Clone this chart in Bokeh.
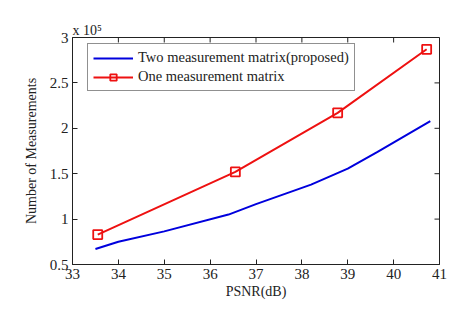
import math
from bokeh.plotting import figure
from bokeh.models import Legend, LegendItem, Range1d, FixedTicker
from bokeh.embed import file_html
from bokeh.resources import INLINE

# Data (Number of measurements in units of 1e5)
one_psnr = [33.55, 36.55, 38.78, 40.72]
one_meas = [0.83, 1.52, 2.17, 2.87]

two_psnr = [33.5, 34.0, 35.0, 36.4, 37.0, 38.2, 39.0, 39.65, 40.8]
two_meas = [0.67, 0.75, 0.865, 1.05, 1.165, 1.38, 1.555, 1.74, 2.08]

x_ticks = [33, 34, 35, 36, 37, 38, 39, 40, 41]
y_ticks = [0.5, 1, 1.5, 2, 2.5, 3]
x_min, x_max = 33, 41
y_min, y_max = 0.5, 3

FONT = "Liberation Serif"
TXT = "#222222"

p = figure(width=474, height=320, output_backend="svg", toolbar_location=None,
           x_range=Range1d(x_min, x_max), y_range=Range1d(y_min, y_max),
           min_border_left=72, min_border_right=35, min_border_top=37, min_border_bottom=56,
           title="x 10\u2075")
p.background_fill_color = "white"
p.border_fill_color = "white"
p.outline_line_color = "#222222"
p.outline_line_width = 1
p.xgrid.visible = False
p.ygrid.visible = False

p.title.text_font = FONT
p.title.text_font_size = "14px"
p.title.text_font_style = "normal"
p.title.text_color = TXT
p.title.align = "left"
p.title.offset = 0
p.title.standoff = 0

for ax in (p.xaxis[0], p.yaxis[0]):
    ax.major_tick_in = 5
    ax.major_tick_out = 0
    ax.minor_tick_in = 0
    ax.minor_tick_out = 0
    ax.axis_line_color = "#222222"
    ax.major_tick_line_color = "#222222"
    ax.major_label_text_font = FONT
    ax.major_label_text_font_size = "15px"
    ax.major_label_text_color = TXT
    ax.axis_label_text_font = FONT
    ax.axis_label_text_font_size = "14px"
    ax.axis_label_text_font_style = "normal"
    ax.axis_label_text_color = TXT

p.xaxis[0].ticker = FixedTicker(ticks=x_ticks)
p.yaxis[0].ticker = FixedTicker(ticks=y_ticks)
p.xaxis[0].axis_label = "PSNR(dB)"
p.yaxis[0].axis_label = "Number of Measurements"
p.xaxis[0].major_label_standoff = 4
p.yaxis[0].major_label_standoff = 4
p.xaxis[0].axis_label_standoff = 2
p.yaxis[0].axis_label_standoff = 8

# inward ticks on the top and right edges of the box
p.ray(x=x_ticks, y=[y_max] * len(x_ticks), length=5, length_units="screen",
      angle=-math.pi / 2, line_color="#222222", line_width=1)
p.ray(x=[x_max] * len(y_ticks), y=y_ticks, length=5, length_units="screen",
      angle=math.pi, line_color="#222222", line_width=1)

blue = p.line(two_psnr, two_meas, line_color="#0000dd", line_width=2)
red = p.line(one_psnr, one_meas, line_color="#ee1111", line_width=2)
red_sq = p.scatter(one_psnr, one_meas, marker="square", size=9, fill_color=None,
                   line_color="#ee1111", line_width=1.8)

legend = Legend(items=[
    LegendItem(label="Two measurement matrix(proposed)", renderers=[blue]),
    LegendItem(label="One measurement matrix", renderers=[red, red_sq]),
])
legend.label_text_font = FONT
legend.label_text_font_size = "14.5px"
legend.label_text_color = TXT
legend.border_line_color = "#222222"
legend.border_line_width = 1
legend.glyph_width = 40
legend.glyph_height = 16
legend.spacing = 2
legend.padding = 5
legend.margin = 0
legend.label_standoff = 5
legend.label_height = 16
legend.location = (15, 173)
p.add_layout(legend)

open("out.html", "w").write(file_html(p, INLINE))
